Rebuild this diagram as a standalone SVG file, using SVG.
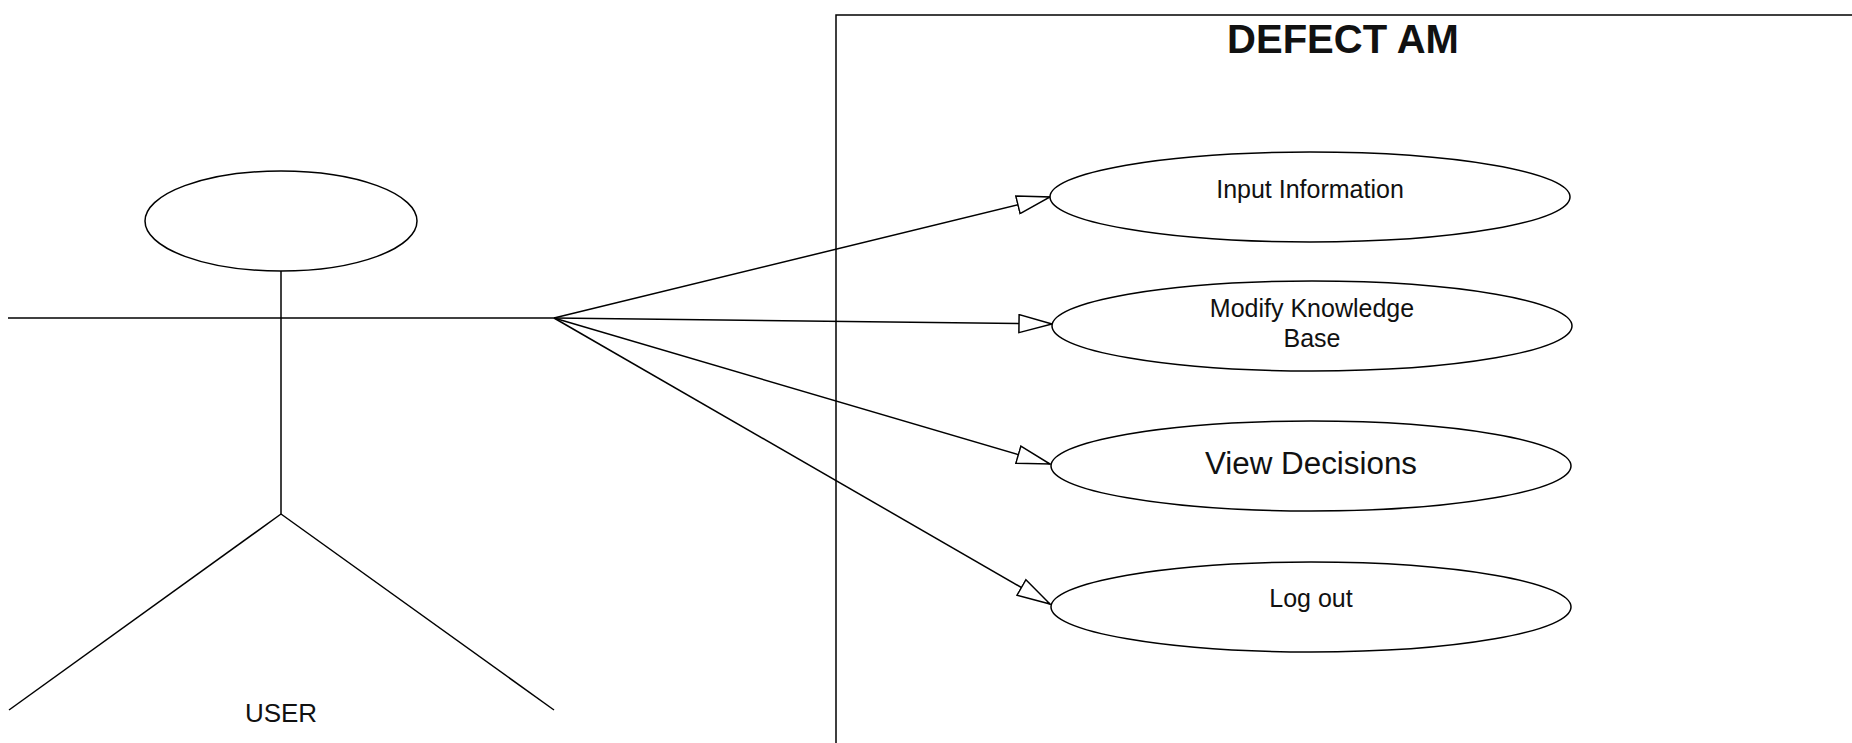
<svg xmlns="http://www.w3.org/2000/svg" width="1852" height="743" viewBox="0 0 1852 743">
<style>
.s{fill:none;stroke:#000;stroke-width:1.5}
.u{fill:#fff;stroke:#000;stroke-width:1.5}
.t{font-family:"Liberation Sans",Arial,sans-serif;fill:#111;text-anchor:middle}
</style>
<defs><marker id="a" markerWidth="36" markerHeight="20" refX="34" refY="10" orient="auto" markerUnits="userSpaceOnUse"><path d="M1,1 L34,10 L1,19 Z" fill="#fff" stroke="#000" stroke-width="1.5"/></marker></defs>
<rect width="1852" height="743" fill="#fff"/>
<g id="system"><rect x="836" y="15" width="1030" height="740" class="s"/>
<text x="1343" y="53" class="t" font-size="40" font-weight="bold">DEFECT AM</text></g>
<g id="user">
<ellipse cx="281" cy="221" rx="136" ry="50" class="s"/>
<line x1="281" y1="271" x2="281" y2="514" class="s"/>
<line x1="8" y1="318" x2="554" y2="318" class="s"/>
<line x1="281" y1="514" x2="9" y2="710" class="s"/>
<line x1="281" y1="514" x2="554" y2="710" class="s"/>
<text x="281" y="722" class="t" font-size="26">USER</text></g>
<g id="connectors">
<line x1="554" y1="318" x2="1050" y2="197" class="s" marker-end="url(#a)"/>
<line x1="554" y1="318" x2="1052" y2="324" class="s" marker-end="url(#a)"/>
<line x1="554" y1="318" x2="1050" y2="464" class="s" marker-end="url(#a)"/>
<line x1="554" y1="318" x2="1050" y2="604" class="s" marker-end="url(#a)"/>
</g>
<g id="uc1"><ellipse cx="1310" cy="197" rx="260" ry="45" class="u"/><text x="1310" y="198" class="t" font-size="25">Input Information</text></g>
<g id="uc2"><ellipse cx="1312" cy="326" rx="260" ry="45" class="u"/><text x="1312" y="317" class="t" font-size="25">Modify Knowledge</text><text x="1312" y="347" class="t" font-size="25">Base</text></g>
<g id="uc3"><ellipse cx="1311" cy="466" rx="260" ry="45" class="u"/><text x="1311" y="474" class="t" font-size="31" textLength="212" lengthAdjust="spacingAndGlyphs">View Decisions</text></g>
<g id="uc4"><ellipse cx="1311" cy="607" rx="260" ry="45" class="u"/><text x="1311" y="607" class="t" font-size="25">Log out</text></g>
</svg>
